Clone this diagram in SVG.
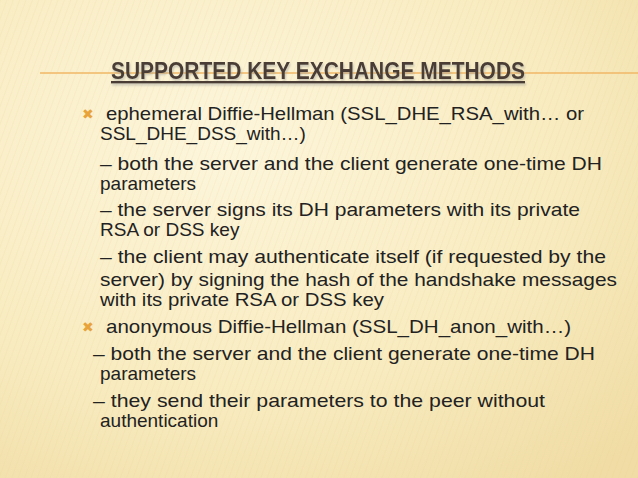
<svg xmlns="http://www.w3.org/2000/svg" width="638" height="478" viewBox="0 0 638 478">
<defs>
<radialGradient id="bg" cx="0.35" cy="0.3" r="0.9">
<stop offset="0" stop-color="#fdf6dc"/><stop offset="0.6" stop-color="#f8ebbf"/><stop offset="1" stop-color="#f0dca4"/>
</radialGradient>
<pattern id="st" width="6" height="6" patternUnits="userSpaceOnUse" patternTransform="rotate(20)">
<line x1="0" y1="0" x2="0" y2="6" stroke="#e8d49a" stroke-width="1" opacity="0.35"/>
</pattern>
<filter id="sh" x="-5%" y="-20%" width="110%" height="160%">
<feDropShadow dx="1" dy="2" stdDeviation="1" flood-color="#999" flood-opacity="0.5"/>
</filter>
</defs>
<style>
.t{font-family:"Liberation Sans",Arial,sans-serif;font-size:19px;fill:#222}
.b{font-family:"DejaVu Sans",sans-serif;font-size:14px;fill:#e8a33a;font-weight:bold}
.h{font-family:"Liberation Sans",Arial,sans-serif;font-size:24px;font-weight:bold;fill:#4a3e36}
</style>
<rect width="638" height="478" fill="url(#bg)"/>
<rect width="638" height="478" fill="url(#st)"/>
<line x1="40" y1="73" x2="638" y2="73" stroke="#f0b766" stroke-width="1.5"/>
<g id="title">
<text class="h" x="111" y="79" textLength="414" lengthAdjust="spacingAndGlyphs" text-decoration="underline" filter="url(#sh)">SUPPORTED KEY EXCHANGE METHODS</text>
</g>
<g id="body">
<text class="b" x="82" y="119">✖</text>
<text class="t" x="106" y="120" textLength="478" lengthAdjust="spacingAndGlyphs">ephemeral Diffie-Hellman (SSL_DHE_RSA_with… or</text>
<text class="t" x="100" y="140">SSL_DHE_DSS_with…)</text>
<text class="t" x="100" y="170" textLength="502" lengthAdjust="spacingAndGlyphs">– both the server and the client generate one-time DH</text>
<text class="t" x="100" y="190">parameters</text>
<text class="t" x="100" y="216" textLength="480" lengthAdjust="spacingAndGlyphs">– the server signs its DH parameters with its private</text>
<text class="t" x="100" y="236">RSA or DSS key</text>
<text class="t" x="100" y="263" textLength="506" lengthAdjust="spacingAndGlyphs">– the client may authenticate itself (if requested by the</text>
<text class="t" x="100" y="286" textLength="517" lengthAdjust="spacingAndGlyphs">server) by signing the hash of the handshake messages</text>
<text class="t" x="100" y="306" textLength="284" lengthAdjust="spacingAndGlyphs">with its private RSA or DSS key</text>
<text class="b" x="82" y="332">✖</text>
<text class="t" x="106" y="333" textLength="465" lengthAdjust="spacingAndGlyphs">anonymous Diffie-Hellman (SSL_DH_anon_with…)</text>
<text class="t" x="93" y="360" textLength="502" lengthAdjust="spacingAndGlyphs">– both the server and the client generate one-time DH</text>
<text class="t" x="100" y="380">parameters</text>
<text class="t" x="93" y="407" textLength="452" lengthAdjust="spacingAndGlyphs">– they send their parameters to the peer without</text>
<text class="t" x="100" y="427">authentication</text>
</g>
</svg>
